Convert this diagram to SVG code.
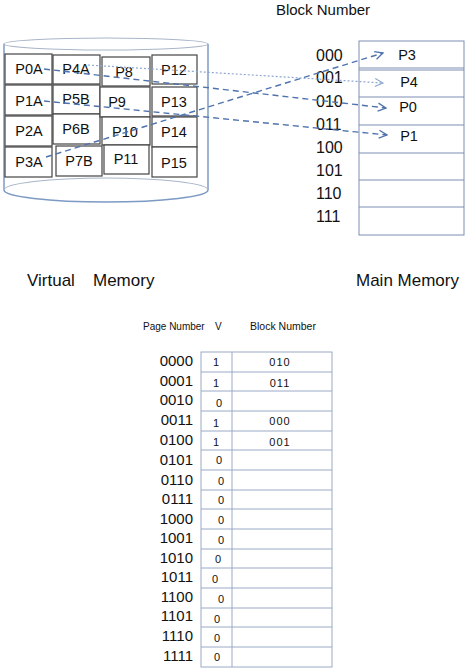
<svg xmlns="http://www.w3.org/2000/svg" width="474" height="671" viewBox="0 0 474 671">
<defs>
<style>
text{font-family:"Liberation Sans",Arial,sans-serif;fill:#111}
.cell{fill:#fff;stroke:#444;stroke-width:1.2}
.pl{font-size:14.5px;text-anchor:middle}
.bn{font-size:16px}
.mm{fill:#fff;stroke:#7d8fb3;stroke-width:1}
.tb{fill:#fff;stroke:#9aa9c6;stroke-width:1}
.pn{font-size:15px;text-anchor:end}
.sm{font-size:11px;text-anchor:middle}
.dash{fill:none;stroke:#4f73ad;stroke-width:1.4;stroke-dasharray:6,4}
.dot{fill:none;stroke:#8ea8d2;stroke-width:1.2;stroke-dasharray:2,2}
</style>
<marker id="ah" viewBox="0 0 10 10" refX="9" refY="5" markerWidth="10" markerHeight="10" markerUnits="userSpaceOnUse" orient="auto">
<path d="M1,1 L9,5 L1,9" fill="none" stroke="#4f73ad" stroke-width="1.3"/>
</marker>
<marker id="ah2" viewBox="0 0 10 10" refX="9" refY="5" markerWidth="10" markerHeight="10" markerUnits="userSpaceOnUse" orient="auto">
<path d="M1,1 L9,5 L1,9" fill="none" stroke="#8ea8d2" stroke-width="1.2"/>
</marker>
</defs>
<rect width="474" height="671" fill="#fff"/>

<g id="virtual-memory">
<path d="M4,44 L4,190 A102,12 0 0 0 208,190 L208,44" fill="#fff" stroke="#7d9ac4" stroke-width="1.5"/>
<ellipse cx="106" cy="44" rx="102" ry="6" fill="#fff" stroke="#a9b5c9" stroke-width="1.2"/>
<path d="M4,190 A102,12 0 0 1 208,190" fill="none" stroke="#a9b5c9" stroke-width="1.2"/>
<g id="page-P0A"><rect class="cell" x="5" y="54" width="47" height="30"/><text class="pl" x="29" y="74">P0A</text></g>
<g id="page-P1A"><rect class="cell" x="5" y="85" width="47" height="30"/><text class="pl" x="29" y="106">P1A</text></g>
<g id="page-P2A"><rect class="cell" x="5" y="116" width="47" height="30"/><text class="pl" x="29" y="136">P2A</text></g>
<g id="page-P3A"><rect class="cell" x="5" y="147" width="47" height="30"/><text class="pl" x="29" y="167">P3A</text></g>
<g id="page-P4A"><rect class="cell" x="53" y="55" width="47" height="29"/><text class="pl" x="76" y="74">P4A</text></g>
<g id="page-P5B"><rect class="cell" x="53" y="85" width="47" height="29"/><text class="pl" x="76" y="104">P5B</text></g>
<g id="page-P6B"><rect class="cell" x="53" y="114" width="47" height="30"/><text class="pl" x="76" y="134">P6B</text></g>
<g id="page-P7B"><rect class="cell" x="56" y="146" width="46" height="30"/><text class="pl" x="79" y="166">P7B</text></g>
<g id="page-P8"><rect class="cell" x="102" y="57" width="48" height="29"/><text class="pl" x="124" y="77">P8</text></g>
<g id="page-P9"><rect class="cell" x="100" y="87" width="50" height="30"/><text class="pl" x="117" y="107">P9</text></g>
<g id="page-P10"><rect class="cell" x="102" y="117" width="48" height="28"/><text class="pl" x="125" y="137">P10</text></g>
<g id="page-P11"><rect class="cell" x="104" y="145" width="45" height="29"/><text class="pl" x="126" y="164">P11</text></g>
<g id="page-P12"><rect class="cell" x="152" y="55" width="45" height="29"/><text class="pl" x="174" y="75">P12</text></g>
<g id="page-P13"><rect class="cell" x="152" y="87" width="45" height="29"/><text class="pl" x="174" y="107">P13</text></g>
<g id="page-P14"><rect class="cell" x="152" y="117" width="45" height="30"/><text class="pl" x="174" y="137">P14</text></g>
<g id="page-P15"><rect class="cell" x="152" y="147" width="45" height="30"/><text class="pl" x="174" y="168">P15</text></g>
</g>

<g id="main-memory">
<text x="323" y="15" font-size="15" text-anchor="middle">Block Number</text>
<rect class="mm" x="359" y="41" width="105" height="194"/>
<line class="mm" x1="359" y1="68" x2="464" y2="68"/>
<line class="mm" x1="359" y1="70" x2="464" y2="70"/>
<line class="mm" x1="359" y1="97" x2="464" y2="97"/>
<line class="mm" x1="359" y1="125" x2="464" y2="125"/>
<line class="mm" x1="359" y1="153" x2="464" y2="153"/>
<line class="mm" x1="359" y1="180" x2="464" y2="180"/>
<line class="mm" x1="359" y1="207" x2="464" y2="207"/>
<text class="bn" x="316" y="61">000</text>
<text class="bn" x="316" y="83">001</text>
<text class="bn" x="316" y="107">010</text>
<text class="bn" x="316" y="130">011</text>
<text class="bn" x="316" y="153">100</text>
<text class="bn" x="316" y="176">101</text>
<text class="bn" x="316" y="199">110</text>
<text class="bn" x="316" y="222">111</text>
<text class="pl" x="407" y="60" font-size="15">P3</text>
<text class="pl" x="409" y="87" font-size="15">P4</text>
<text class="pl" x="408" y="112" font-size="15">P0</text>
<text class="pl" x="409" y="141" font-size="15">P1</text>
</g>

<g id="connectors">
<line class="dash" x1="44" y1="69" x2="386" y2="108" marker-end="url(#ah)"/>
<line class="dot" x1="88" y1="65" x2="383" y2="83" marker-end="url(#ah2)"/>
<line class="dash" x1="44" y1="101" x2="387" y2="135" marker-end="url(#ah)"/>
<line class="dash" x1="46" y1="157" x2="383" y2="53" marker-end="url(#ah)"/>
</g>

<g id="labels">
<text x="27" y="286" font-size="17">Virtual</text>
<text x="93" y="286" font-size="17">Memory</text>
<text x="356" y="286" font-size="17">Main Memory</text>
</g>

<g id="page-table">
<text x="143" y="330" font-size="10">Page Number</text>
<text x="215" y="330" font-size="10">V</text>
<text x="250" y="330" font-size="10.5">Block Number</text>
<rect class="tb" x="201" y="352" width="131" height="315"/>
<line class="tb" x1="232" y1="352" x2="232" y2="667"/>
<g class="tb">
<line x1="201" y1="372" x2="332" y2="372"/>
<line x1="201" y1="391" x2="332" y2="391"/>
<line x1="201" y1="411" x2="332" y2="411"/>
<line x1="201" y1="431" x2="332" y2="431"/>
<line x1="201" y1="450" x2="332" y2="450"/>
<line x1="201" y1="470" x2="332" y2="470"/>
<line x1="201" y1="490" x2="332" y2="490"/>
<line x1="201" y1="509" x2="332" y2="509"/>
<line x1="201" y1="529" x2="332" y2="529"/>
<line x1="201" y1="549" x2="332" y2="549"/>
<line x1="201" y1="568" x2="332" y2="568"/>
<line x1="201" y1="588" x2="332" y2="588"/>
<line x1="201" y1="608" x2="332" y2="608"/>
<line x1="201" y1="627" x2="332" y2="627"/>
<line x1="201" y1="647" x2="332" y2="647"/>
</g>
<text class="pn" x="193" y="366">0000</text>
<text class="pn" x="193" y="386">0001</text>
<text class="pn" x="193" y="405">0010</text>
<text class="pn" x="193" y="425">0011</text>
<text class="pn" x="193" y="445">0100</text>
<text class="pn" x="193" y="465">0101</text>
<text class="pn" x="193" y="485">0110</text>
<text class="pn" x="193" y="504">0111</text>
<text class="pn" x="193" y="524">1000</text>
<text class="pn" x="193" y="543">1001</text>
<text class="pn" x="193" y="563">1010</text>
<text class="pn" x="193" y="582">1011</text>
<text class="pn" x="193" y="602">1100</text>
<text class="pn" x="193" y="621">1101</text>
<text class="pn" x="193" y="641">1110</text>
<text class="pn" x="193" y="661">1111</text>
<text class="sm" x="216" y="366">1</text>
<text class="sm" x="216" y="387">1</text>
<text class="sm" x="219" y="407">0</text>
<text class="sm" x="216" y="427">1</text>
<text class="sm" x="216" y="446">1</text>
<text class="sm" x="219" y="464">0</text>
<text class="sm" x="221" y="485">0</text>
<text class="sm" x="221" y="504">0</text>
<text class="sm" x="221" y="524">0</text>
<text class="sm" x="221" y="544">0</text>
<text class="sm" x="218" y="563">0</text>
<text class="sm" x="215" y="583">0</text>
<text class="sm" x="221" y="603">0</text>
<text class="sm" x="217" y="623">0</text>
<text class="sm" x="217" y="642">0</text>
<text class="sm" x="217" y="661">0</text>
<text class="sm" x="280" y="366" letter-spacing="1">010</text>
<text class="sm" x="280" y="387" letter-spacing="1">011</text>
<text class="sm" x="280" y="425" letter-spacing="1">000</text>
<text class="sm" x="280" y="446" letter-spacing="1">001</text>
</g>
</svg>
